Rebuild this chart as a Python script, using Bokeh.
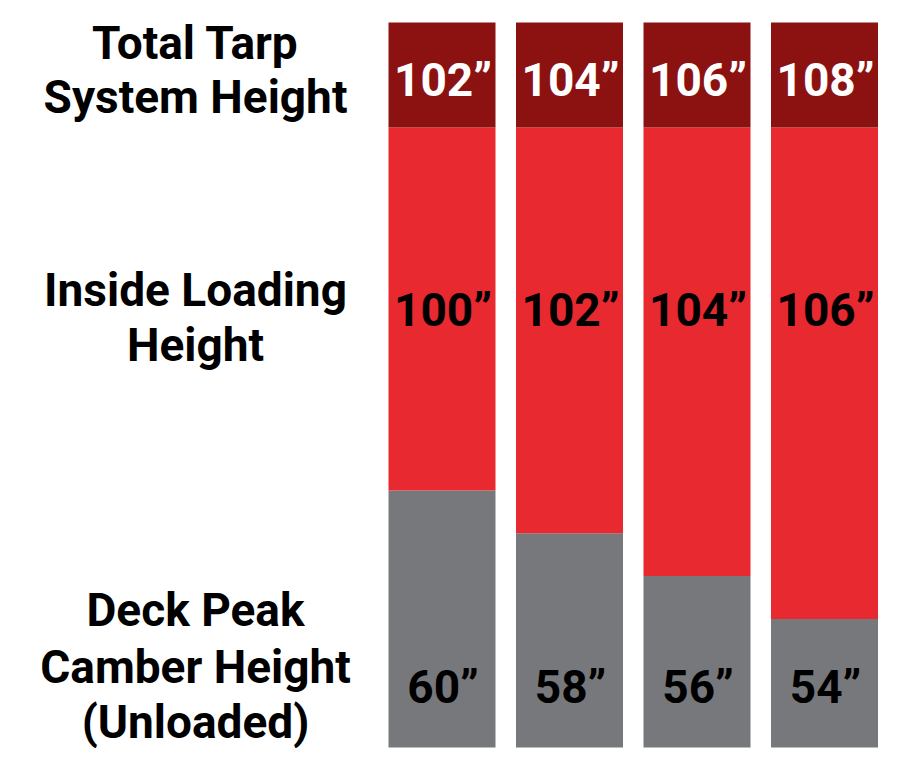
from bokeh.plotting import figure
from bokeh.models import Range1d, ColumnDataSource
from bokeh.core.properties import value
from bokeh.embed import file_html
from bokeh.resources import INLINE

# ---- data ----
total_tarp = [102, 104, 106, 108]
inside_loading = [100, 102, 104, 106]
deck_camber = [60, 58, 56, 54]
row_labels_top = ["Total Tarp", "System Height"]
row_labels_mid = ["Inside Loading", "Height"]
row_labels_bot = ["Deck Peak", "Camber Height", "(Unloaded)"]

# ---- layout constants (infographic scale) ----
W, H = 900, 771
PX_PER_IN = 21.4
REF_V, REF_PX = 60.0, 490.0          # camber value 60 sits at this pixel row
TXT_SHIFT = 16                       # baseline correction for text


def v_of(px):
    return REF_V + (REF_PX - px) / PX_PER_IN


def tv_of(px):
    return v_of(px - TXT_SHIFT)


Y_BASE = v_of(747)
Y_TOP = v_of(22)
Y_BAND = v_of(127)
BAR_STEP = 127.5
X_CENTER0 = 441.5

x = list(range(len(total_tarp)))
x_lo = -X_CENTER0 / BAR_STEP
x_hi = (W - X_CENTER0) / BAR_STEP

p = figure(width=W, height=H, output_backend="svg", toolbar_location=None,
           x_range=Range1d(x_lo, x_hi), y_range=Range1d(v_of(H), v_of(0)),
           min_border=0, outline_line_color=None, background_fill_color="white",
           border_fill_color="white")
p.axis.visible = False
p.grid.visible = False

DARK = "#8c1212"
RED = "#e8292f"
GRAY = "#77787b"
BW = 107 / BAR_STEP

src = ColumnDataSource(dict(
    x=x,
    camber=deck_camber,
    base=[Y_BASE] * len(x),
    band=[Y_BAND] * len(x),
    top=[Y_TOP] * len(x),
    t_lab=[f"{v}\u201d" for v in total_tarp],
    i_lab=[f"{v}\u201d" for v in inside_loading],
    c_lab=[f"{v}\u201d" for v in deck_camber],
))

p.vbar(x="x", width=BW, bottom="base", top="camber", source=src,
       fill_color=GRAY, line_color=None)
p.vbar(x="x", width=BW, bottom="camber", top="band", source=src,
       fill_color=RED, line_color=None)
p.vbar(x="x", width=BW, bottom="band", top="top", source=src,
       fill_color=DARK, line_color=None)

FONT = value("Roboto")
VAL_SIZE = "46px"
src.data["y_t"] = [tv_of(95)] * len(x)
src.data["y_i"] = [tv_of(325)] * len(x)
src.data["y_c"] = [tv_of(702)] * len(x)
src.data["x_lab"] = [v + 1 / BAR_STEP for v in x]

p.text(x="x_lab", y="y_t", text="t_lab", source=src, text_font=FONT,
       text_font_style="bold", text_font_size=VAL_SIZE, text_color="white",
       text_align="center", text_baseline="alphabetic")
p.text(x="x_lab", y="y_i", text="i_lab", source=src, text_font=FONT,
       text_font_style="bold", text_font_size=VAL_SIZE, text_color="black",
       text_align="center", text_baseline="alphabetic")
p.text(x="x_lab", y="y_c", text="c_lab", source=src, text_font=FONT,
       text_font_style="bold", text_font_size=VAL_SIZE, text_color="black",
       text_align="center", text_baseline="alphabetic")

LAB_X = (195 - X_CENTER0) / BAR_STEP
lab_text = row_labels_top + row_labels_mid + row_labels_bot
lab_px = [58, 112, 305, 360, 625, 682, 737]
p.text(x=[LAB_X] * len(lab_text), y=[tv_of(v) for v in lab_px], text=lab_text,
       text_font=FONT, text_font_style="bold", text_font_size="46px",
       text_color="black", text_align="center", text_baseline="alphabetic")

open("out.html", "w").write(file_html(p, INLINE))
